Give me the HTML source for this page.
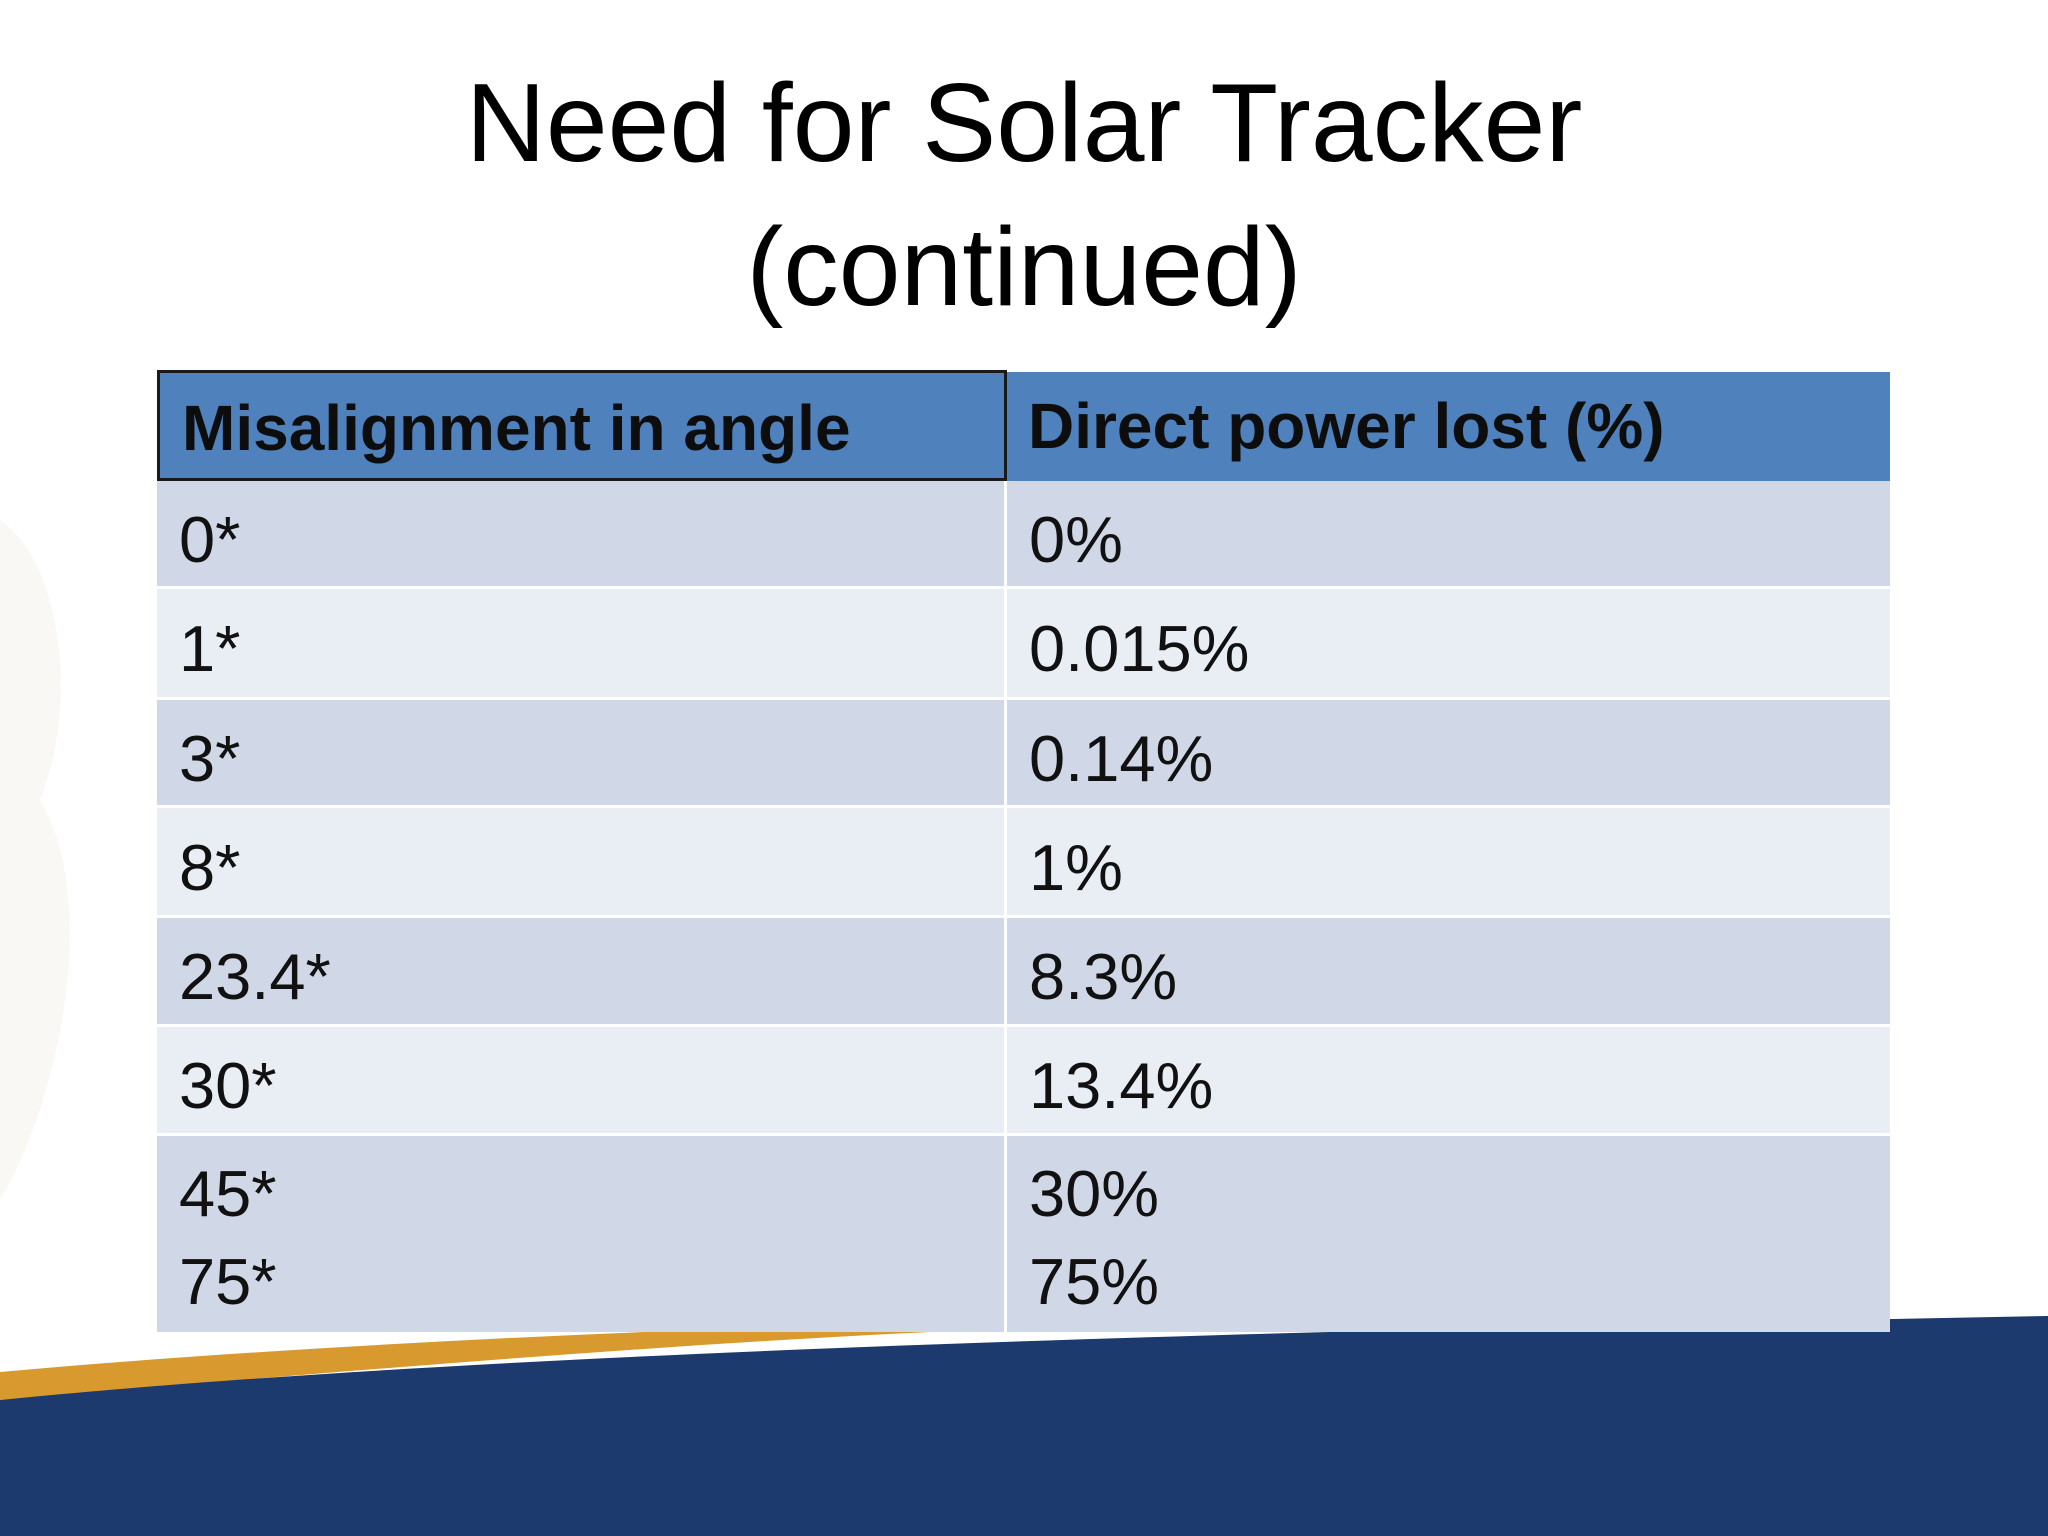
<!DOCTYPE html>
<html><head><meta charset="utf-8"><style>
html,body{margin:0;padding:0}
body{width:2048px;height:1536px;position:relative;overflow:hidden;background:#fff;font-family:"Liberation Sans",sans-serif}
.title{position:absolute;left:0;width:2048px;text-align:center;font-size:111px;color:#000;line-height:1}
.cell{position:absolute;box-sizing:border-box;font-size:65px;color:#111;padding-left:22px}
.hdr{background:#4f81bd;font-weight:bold;color:#0d0d0d;font-size:64px}
.a{background:#d0d8e8}.b{background:#e9edf4}
</style></head><body>
<svg width="2048" height="1536" style="position:absolute;left:0;top:0">
<path d="M0 520 C60 560 80 700 40 800 C100 900 60 1100 0 1200 Z" fill="#f5f3ee" opacity="0.6"/>
<path d="M0 1372 C300 1345 650 1330 930 1322 L930 1332 C650 1345 300 1375 0 1400 Z" fill="#d89a2e"/>
<path d="M0 1400 C500 1350 1300 1330 2048 1316 L2048 1536 L0 1536 Z" fill="#1c3a6e"/>
</svg>
<div class="title" style="top:68px">Need for Solar Tracker</div>
<div class="title" style="top:212px">(continued)</div>
<div>
<div class="cell hdr" style="left:157px;top:370px;width:850px;height:111px;line-height:111px;border:3px solid #1a1a1a">Misalignment in angle</div>
<div class="cell hdr" style="left:1007px;top:372px;width:883px;height:109px;line-height:109px;padding-left:21px">Direct power lost (%)</div>
<script>
const angles=["0*","1*","3*","8*","23.4*","30*","45*<br>75*"];
const losses=["0%","0.015%","0.14%","1%","8.3%","13.4%","30%<br>75%"];
const tops=[481,589,700,808,918,1027,1136,1335];
for(let i=0;i<angles.length;i++){
 const h=tops[i+1]-tops[i]-3;
 const cls=i%2==0?'a':'b';
 const lh=i==6?'88px':h+'px';
 const pt=i==6?'14px':'6px';
 document.write('<div class="cell '+cls+'" style="left:157px;top:'+tops[i]+'px;width:847px;height:'+h+'px;line-height:'+lh+';padding-top:'+pt+'">'+angles[i]+'</div>');
 document.write('<div class="cell '+cls+'" style="left:1007px;top:'+tops[i]+'px;width:883px;height:'+h+'px;line-height:'+lh+';padding-top:'+pt+'">'+losses[i]+'</div>');
}
</script>
</div>
</body></html>
